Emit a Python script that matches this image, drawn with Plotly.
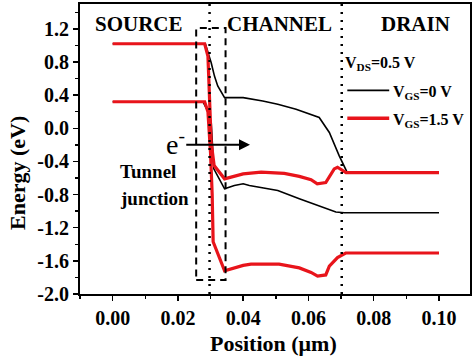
import plotly.graph_objects as go

# ---------------- data ----------------
series_names = ["V<sub>GS</sub>=0 V", "V<sub>GS</sub>=1.5 V"]
legend_title = "V<sub>DS</sub>=0.5 V"

# V_GS = 0 V (black) : conduction band / valence band
x_black_cb = [0.0, 0.0284, 0.0302, 0.0312, 0.0322, 0.0343, 0.0400, 0.0460, 0.0506, 0.0562, 0.0633, 0.0664, 0.0694, 0.0719, 0.100]
y_black_cb = [1.02, 1.02, 0.79, 0.63, 0.51, 0.37, 0.37, 0.33, 0.29, 0.23, 0.13, -0.05, -0.33, -0.535, -0.535]
x_black_vb = [0.0, 0.0277, 0.0290, 0.0302, 0.0310, 0.0343, 0.0373, 0.0400, 0.0419, 0.0506, 0.0572, 0.0628, 0.0684, 0.0710, 0.100]
y_black_vb = [0.32, 0.32, 0.22, 0.07, -0.49, -0.73, -0.69, -0.67, -0.69, -0.75, -0.85, -0.93, -1.01, -1.02, -1.02]

# V_GS = 1.5 V (red)
x_red_cb = [0.0, 0.0282, 0.0292, 0.0302, 0.0311, 0.0343, 0.0400, 0.0455, 0.0526, 0.0572, 0.0608, 0.0627, 0.0653, 0.0664, 0.0679, 0.0689, 0.0715, 0.100]
y_red_cb = [1.02, 1.02, 0.87, -0.17, -0.45, -0.61, -0.55, -0.53, -0.545, -0.58, -0.62, -0.67, -0.655, -0.59, -0.49, -0.47, -0.535, -0.535]
x_red_vb = [0.0, 0.0282, 0.0292, 0.0300, 0.0305, 0.0308, 0.0343, 0.0400, 0.0424, 0.0510, 0.0572, 0.0608, 0.0628, 0.0653, 0.0664, 0.0689, 0.0714, 0.100]
y_red_vb = [0.32, 0.32, 0.20, -0.30, -0.80, -1.37, -1.72, -1.655, -1.64, -1.64, -1.685, -1.74, -1.785, -1.77, -1.665, -1.56, -1.505, -1.505]

x_tick_vals = [0.00, 0.02, 0.04, 0.06, 0.08, 0.10]
x_tick_text = ["0.00", "0.02", "0.04", "0.06", "0.08", "0.10"]
y_tick_vals = [-2.0, -1.6, -1.2, -0.8, -0.4, 0.0, 0.4, 0.8, 1.2]
y_tick_text = ["-2.0", "-1.6", "-1.2", "-0.8", "-0.4", "0.0", "0.4", "0.8", "1.2"]

region_labels = ["SOURCE", "CHANNEL", "DRAIN"]
junction_label = ["Tunnel", "junction"]

# ---------------- style ----------------
FONT = "Liberation Serif"
BLACK = "#000000"
RED = "#e8141b"

W, H = 474, 361
L, R, T, B = 80, 3, 2, 67
PW, PH = W - L - R, H - T - B


def px_x(px):
    return (px - L) / PW


def px_y(py):
    return (H - B - py) / PH


fig = go.Figure()
for xs, ys in [(x_black_cb, y_black_cb), (x_black_vb, y_black_vb)]:
    fig.add_trace(go.Scatter(x=xs, y=ys, mode="lines", line=dict(color=BLACK, width=1.6),
                             showlegend=False, hoverinfo="skip"))
for xs, ys in [(x_red_cb, y_red_cb), (x_red_vb, y_red_vb)]:
    fig.add_trace(go.Scatter(x=xs, y=ys, mode="lines", line=dict(color=RED, width=3.2),
                             showlegend=False, hoverinfo="skip"))

shapes = []
# dotted region boundaries
for xv in [0.0297, 0.0702]:
    shapes.append(dict(type="line", xref="x", yref="paper", x0=xv, x1=xv, y0=0, y1=1,
                       line=dict(color=BLACK, width=2.5, dash="2px,6px")))
# dashed tunnel-junction box
shapes.append(dict(type="rect", xref="x", yref="y", x0=0.0256, x1=0.0346, y0=-1.83, y1=1.21,
                   line=dict(color=BLACK, width=2, dash="7px,5px")))
# manual legend samples
shapes.append(dict(type="line", xref="paper", yref="paper", x0=px_x(348), x1=px_x(390),
                   y0=px_y(89), y1=px_y(89), line=dict(color=BLACK, width=1.6)))
shapes.append(dict(type="line", xref="paper", yref="paper", x0=px_x(348), x1=px_x(390),
                   y0=px_y(117), y1=px_y(117), line=dict(color=RED, width=3.5)))

bold = dict(family=FONT, size=21, color=BLACK)
ann = []
for text, cx in zip(region_labels, [139, 280, 416]):
    ann.append(dict(text=f"<b>{text}</b>", x=px_x(cx), y=px_y(22), xref="paper", yref="paper",
                    showarrow=False, font=bold, xanchor="center", yanchor="middle"))
ann.append(dict(text=f"<b>{junction_label[0]}</b>", x=px_x(118), y=px_y(171), xref="paper", yref="paper",
                showarrow=False, font=dict(family=FONT, size=19, color=BLACK), xanchor="left", yanchor="middle"))
ann.append(dict(text=f"<b>{junction_label[1]}</b>", x=px_x(118), y=px_y(198), xref="paper", yref="paper",
                showarrow=False, font=dict(family=FONT, size=19, color=BLACK), xanchor="left", yanchor="middle"))
# electron + arrow
ann.append(dict(text="e<sup>-</sup>", x=px_x(176), y=px_y(141), xref="paper", yref="paper",
                showarrow=False, font=dict(family=FONT, size=28, color=BLACK), xanchor="center", yanchor="middle"))
ann.append(dict(x=0.0421, y=-0.20, ax=0.0221, ay=-0.20, xref="x", yref="y", axref="x", ayref="y",
                text="", showarrow=True, arrowhead=2, arrowsize=1.1, arrowwidth=2, arrowcolor=BLACK))
# legend text
leg_font = dict(family=FONT, size=16, color=BLACK)
ann.append(dict(text=f"<b>{legend_title}</b>", x=px_x(344), y=px_y(62), xref="paper", yref="paper",
                showarrow=False, font=leg_font, xanchor="left", yanchor="middle"))
for name, py in zip(series_names, [91, 119]):
    ann.append(dict(text=f"<b>{name}</b>", x=px_x(392), y=px_y(py), xref="paper", yref="paper",
                    showarrow=False, font=leg_font, xanchor="left", yanchor="middle"))
# axis titles
ann.append(dict(text="<b>Position (μm)</b>", x=px_x(274), y=px_y(344), xref="paper", yref="paper",
                showarrow=False, font=dict(family=FONT, size=22, color=BLACK), xanchor="center", yanchor="middle"))
ann.append(dict(text="<b>Energy (eV)</b>", x=px_x(18), y=px_y(172), xref="paper", yref="paper",
                showarrow=False, textangle=-90, font=dict(family=FONT, size=22, color=BLACK),
                xanchor="center", yanchor="middle"))

tickfont = dict(family=FONT, size=20, color=BLACK, weight="bold")
fig.update_layout(
    width=W, height=H,
    margin=dict(l=L, r=R, t=T, b=B),
    paper_bgcolor="white", plot_bgcolor="white",
    showlegend=False, hovermode=False,
    shapes=shapes, annotations=ann,
    xaxis=dict(range=[-0.01, 0.1095], tickvals=x_tick_vals, ticktext=x_tick_text,
               ticks="outside", ticklen=5, tickwidth=1.5, tickcolor=BLACK,
               minor=dict(dtick=0.01, tick0=0, ticks="outside", ticklen=3, tickwidth=1.5, tickcolor=BLACK),
               showline=True, linecolor=BLACK, linewidth=2, mirror=True,
               showgrid=False, zeroline=False, tickfont=tickfont),
    yaxis=dict(range=[-2.0, 1.5], tickvals=y_tick_vals, ticktext=y_tick_text,
               ticks="outside", ticklen=5, tickwidth=1.5, tickcolor=BLACK,
               minor=dict(dtick=0.2, tick0=0, ticks="outside", ticklen=3, tickwidth=1.5, tickcolor=BLACK),
               showline=True, linecolor=BLACK, linewidth=2, mirror=True,
               showgrid=False, zeroline=False, tickfont=tickfont),
)

fig.write_html("out.html", config={"displayModeBar": False, "staticPlot": True},
               post_script="document.body.style.margin='0px';document.body.style.overflow='hidden';")
